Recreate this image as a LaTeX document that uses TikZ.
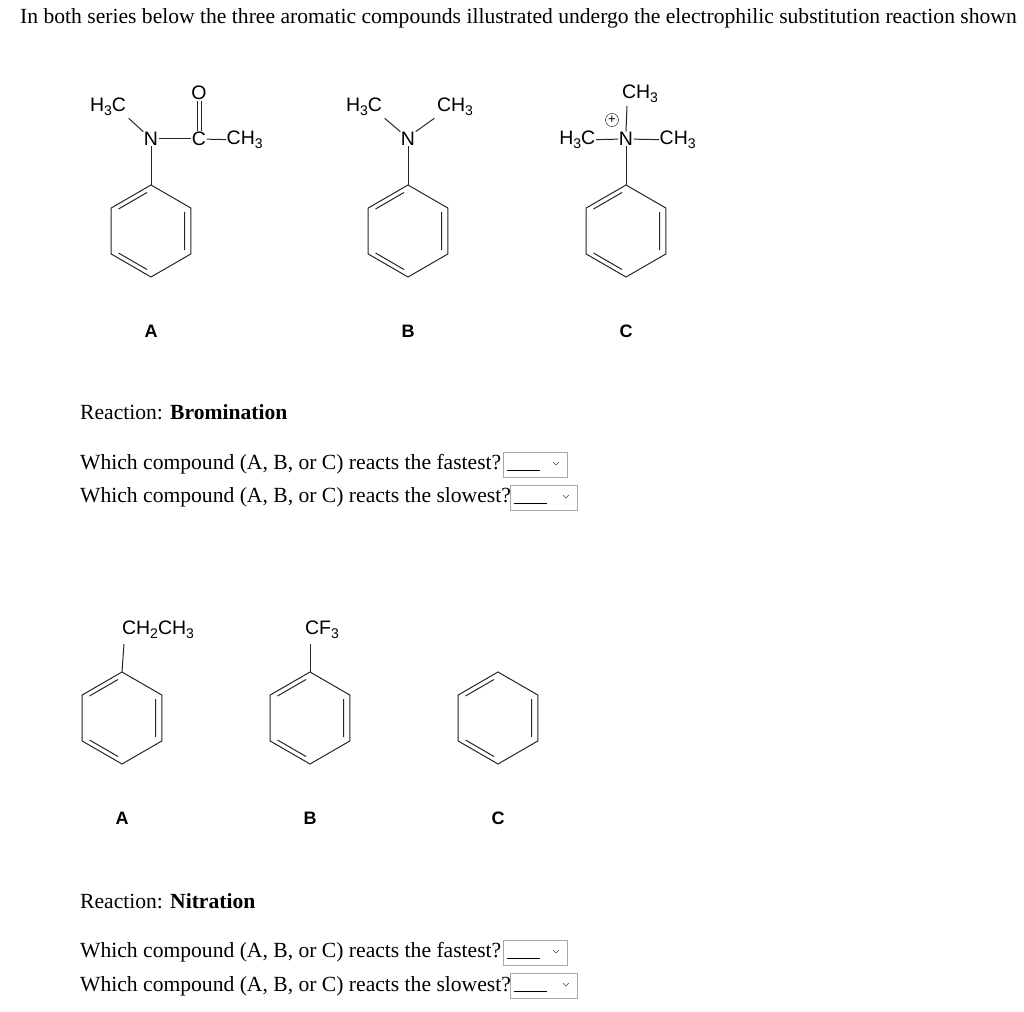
\documentclass[tikz,border=0pt]{standalone}
\usepackage{fontspec}
\setmainfont{Liberation Serif}
\setsansfont{Liberation Sans}
\newcommand{\sbs}[1]{\raisebox{-3.5pt}{\fontsize{14}{14}\selectfont #1}}
\begin{document}
\begin{tikzpicture}[x=1pt,y=-1pt,
  chem/.style={font=\sffamily\fontsize{19.5}{19.5}\selectfont,inner sep=0.5pt},
  lbl/.style={font=\sffamily\bfseries\fontsize{18}{18}\selectfont},
  txt/.style={font=\fontsize{21.6}{21.6}\selectfont,anchor=west,inner sep=0pt},
  bnd/.style={line width=1pt,gray!30!black},
  dd/.style={draw=gray!70,line width=0.8pt,fill=white}]
\useasboundingbox (0,0) rectangle (1024,1011);
\newcommand{\ring}[3]{%
  \begin{scope}[shift={(#1,#2)}]
   \coordinate (#3) at (0,-46);
   \draw[bnd] (0,-46) -- (39.8,-23) -- (39.8,23) -- (0,46) -- (-39.8,23) -- (-39.8,-23) -- cycle;
   \draw[bnd] (-4,-38.5) -- (-32.5,-22) (33.5,-19) -- (33.5,19) (-4,38.5) -- (-32.5,22);
  \end{scope}}
\node[txt] (title) at (20,18) {In both series below the three aromatic compounds illustrated undergo the electrophilic substitution reaction shown};
% A
\ring{151}{231}{ra}
\node[chem] (na) at (151,139) {N};
\node[chem] (ca) at (199,139) {C};
\node[chem] (oa) at (199,93) {O};
\node[chem,anchor=west] (ma) at (226,140) {CH\sbs{3}};
\node[chem] (ha) at (108,107) {H\sbs{3}C};
\draw[bnd] (na.south) -- (ra);
\draw[bnd] (na) -- (ca); \draw[bnd] (ca) -- (ma);
\draw[bnd] ([xshift=-2]oa.south) -- ([xshift=-2]ca.north) ([xshift=2]oa.south) -- ([xshift=2]ca.north);
\draw[bnd] ([xshift=2,yshift=-2]ha.south east) -- (na.north west);
\node[lbl] (la) at (151,331) {A};
% B
\ring{408}{231}{rb}
\node[chem] (nb) at (408,139) {N};
\node[chem] (hb) at (364,107) {H\sbs{3}C};
\node[chem] (mb) at (455,107) {CH\sbs{3}};
\draw[bnd] (nb.south) -- (rb);
\draw[bnd] ([xshift=2,yshift=-2]hb.south east) -- (nb.north west);
\draw[bnd] ([xshift=-2,yshift=-2]mb.south west) -- (nb.north east);
\node[lbl] (lb) at (408,331) {B};
% C
\ring{626}{231}{rc}
\node[chem] (nc) at (626,139) {N};
\node[chem,anchor=east] (hc) at (596,140) {H\sbs{3}C};
\node[chem,anchor=west] (mc) at (659,140) {CH\sbs{3}};
\node[chem] (tc) at (640,94) {CH\sbs{3}};
\node[draw,circle,inner sep=0pt,minimum size=13pt,font=\sffamily\fontsize{13}{13}\selectfont] (pc) at (612,120) {+};
\draw[bnd] (nc.south) -- (rc);
\draw[bnd] (hc) -- (nc); \draw[bnd] (nc) -- (mc);
\draw[bnd] (nc.north) -- (627,106);
\node[lbl] (lc) at (626,331) {C};
% text 1
\node[txt] (r1) at (80,412) {Reaction: \textbf{Bromination}};
\node[txt] (q1) at (80,464) {Which compound (A, B, or C) reacts the fastest?};
\node[txt] (q2) at (80,497) {Which compound (A, B, or C) reacts the slowest?};
\draw[dd] (503,452) rectangle (567,477); \draw[line width=1pt] (507,470) -- (540,470);
\draw[gray!60!black] (553,462) -- (556,465) -- (559,462);
\draw[dd] (510,485) rectangle (577,510); \draw[line width=1pt] (514,503) -- (547,503);
\draw[gray!60!black] (563,495) -- (566,498) -- (569,495);
% bottom
\ring{122}{718}{sa}
\ring{310}{718}{sb}
\ring{498}{718}{sc}
\node[chem] (ea) at (158,630) {CH\sbs{2}CH\sbs{3}};
\node[chem] (fb) at (322,630) {CF\sbs{3}};
\draw[bnd] (124,644) -- (sa);
\draw[bnd] (310,644) -- (sb);
\node[lbl] (la2) at (122,818) {A};
\node[lbl] (lb2) at (310,818) {B};
\node[lbl] (lc2) at (498,818) {C};
\node[txt] (r2) at (80,901) {Reaction: \textbf{Nitration}};
\node[txt] (q3) at (80,952) {Which compound (A, B, or C) reacts the fastest?};
\node[txt] (q4) at (80,986) {Which compound (A, B, or C) reacts the slowest?};
\draw[dd] (503,940) rectangle (567,965); \draw[line width=1pt] (507,958) -- (540,958);
\draw[gray!60!black] (553,950) -- (556,953) -- (559,950);
\draw[dd] (510,973) rectangle (577,998); \draw[line width=1pt] (514,991) -- (547,991);
\draw[gray!60!black] (563,983) -- (566,986) -- (569,983);
\end{tikzpicture}
\end{document}
